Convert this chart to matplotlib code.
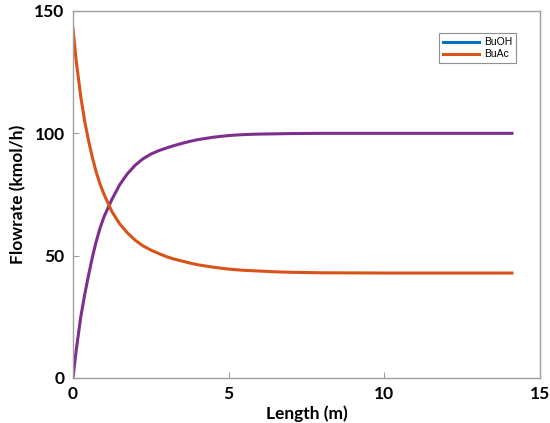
import numpy as np
import matplotlib.pyplot as plt
from matplotlib.lines import Line2D

# values
length = [0, 0.1, 0.25, 0.375, 0.5, 0.625, 0.75, 0.875, 1, 1.25, 1.5, 1.75, 2, 2.25, 2.5,
          2.75, 3, 3.25, 3.5, 3.75, 4, 4.5, 5, 5.5, 6, 6.5, 7, 8, 10, 12, 14.1]
buoh = [0, 11, 25, 34, 42, 49.5, 56, 61.5, 66, 73, 79, 83.5, 87, 89.6, 91.5,
        92.9, 94, 95, 95.9, 96.7, 97.4, 98.4, 99.1, 99.5, 99.7, 99.8, 99.9, 100, 100, 100, 100]
buac = [143, 130, 115, 105, 97, 90, 84, 79, 75, 68, 63, 59.3, 56.3, 54.0, 52.3,
        50.9, 49.6, 48.6, 47.8, 47, 46.3, 45.3, 44.5, 44.0, 43.7, 43.4, 43.2, 43.0, 42.9, 42.9, 42.9]

legend_labels = ["BuOH", "BuAc"]
legend_colors = ["#0072BD", "#D95319"]

fig = plt.figure(figsize=(5.5, 4.23), dpi=100)
ax = fig.add_axes([0.1327, 0.1064, 0.8491, 0.8676])

ax.plot(length, buoh, color="#7E2F8E", lw=2.2)
ax.plot(length, buac, color="#D95319", lw=2.2)

ax.set_xlim(0, 15)
ax.set_ylim(0, 150)
ax.set_xticks([0, 5, 10, 15])
ax.set_yticks([0, 50, 100, 150])

for s in ax.spines.values():
    s.set_color("#a0a0a0")
    s.set_linewidth(1)
ax.tick_params(direction="in", length=4, color="#a0a0a0", pad=6)
for lab in ax.get_xticklabels() + ax.get_yticklabels():
    lab.set_fontfamily("Lato")
    lab.set_fontweight("bold")
    lab.set_fontsize(12.5)

ax.set_xlabel("Length (m)", fontfamily="Lato", fontweight="bold", fontsize=12.5, labelpad=2)
ax.set_ylabel("Flowrate (kmol/h)", fontfamily="Lato", fontweight="bold", fontsize=12.5, labelpad=6)

handles = [Line2D([], [], color=c, lw=2.2) for c in legend_colors]
leg = ax.legend(handles, legend_labels, loc="upper right", bbox_to_anchor=(0.949, 0.94),
                borderaxespad=0, prop={"family": "Liberation Sans", "size": 7.5},
                fancybox=False, framealpha=1, handlelength=3.4,
                borderpad=0.4, labelspacing=0.2, handletextpad=0.5)
leg.get_frame().set_edgecolor("#909090")
leg.get_frame().set_linewidth(0.8)

fig.savefig("out.png", dpi=100)
